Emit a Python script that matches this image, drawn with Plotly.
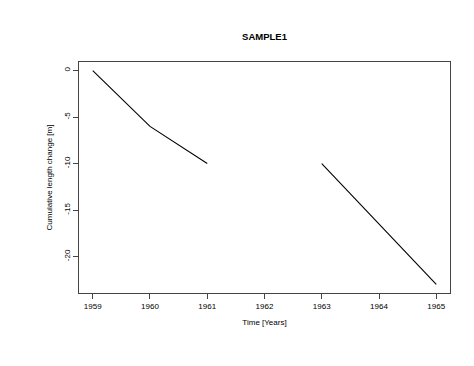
import plotly.graph_objects as go

years = [1959, 1960, 1961, 1962, 1963, 1964, 1965]
length_change = [0, -6, -10, None, -10, -16.5, -23]
x_ticks = [1959, 1960, 1961, 1962, 1963, 1964, 1965]
y_ticks = [0, -5, -10, -15, -20]

font = "Liberation Sans, Arial, Helvetica, sans-serif"

# page body has an 8px default margin; compensate so the plot lands where the reference has it
OFF = 8
W, H = 474, 366

fig = go.Figure()
fig.add_trace(go.Scatter(
    x=years, y=length_change, mode="lines",
    line=dict(color="black", width=1.1),
    connectgaps=False, showlegend=False,
))

fig.update_layout(
    width=W, height=H,
    margin=dict(l=79 - OFF, r=24 + OFF, t=62 - OFF, b=73 + OFF),
    paper_bgcolor="white", plot_bgcolor="white",
    font=dict(family=font, size=8, color="black"),
    title=dict(text="<b>SAMPLE1</b>", x=(264.5 - OFF) / W, xanchor="center",
               y=1 - (37 - OFF) / H, yanchor="middle", font=dict(size=9.5, family=font)),
)
fig.update_xaxes(
    range=[1958.76, 1965.24], tickvals=x_ticks, ticktext=[str(v) for v in x_ticks],
    showgrid=False, zeroline=False,
    showline=True, mirror=True, linecolor="#444", linewidth=1,
    ticks="outside", ticklen=5, tickcolor="#444",
    title=dict(text="Time [Years]", font=dict(size=8), standoff=9),
)
fig.update_yaxes(
    range=[-23.92, 0.92], tickvals=y_ticks, ticktext=[str(v) for v in y_ticks],
    tickangle=-90,
    showgrid=False, zeroline=False,
    showline=True, mirror=True, linecolor="#444", linewidth=1,
    ticks="outside", ticklen=5, tickcolor="#444",
    title=dict(text="Cumulative length change [m]", font=dict(size=8), standoff=8),
)

fig.write_html("out.html")
